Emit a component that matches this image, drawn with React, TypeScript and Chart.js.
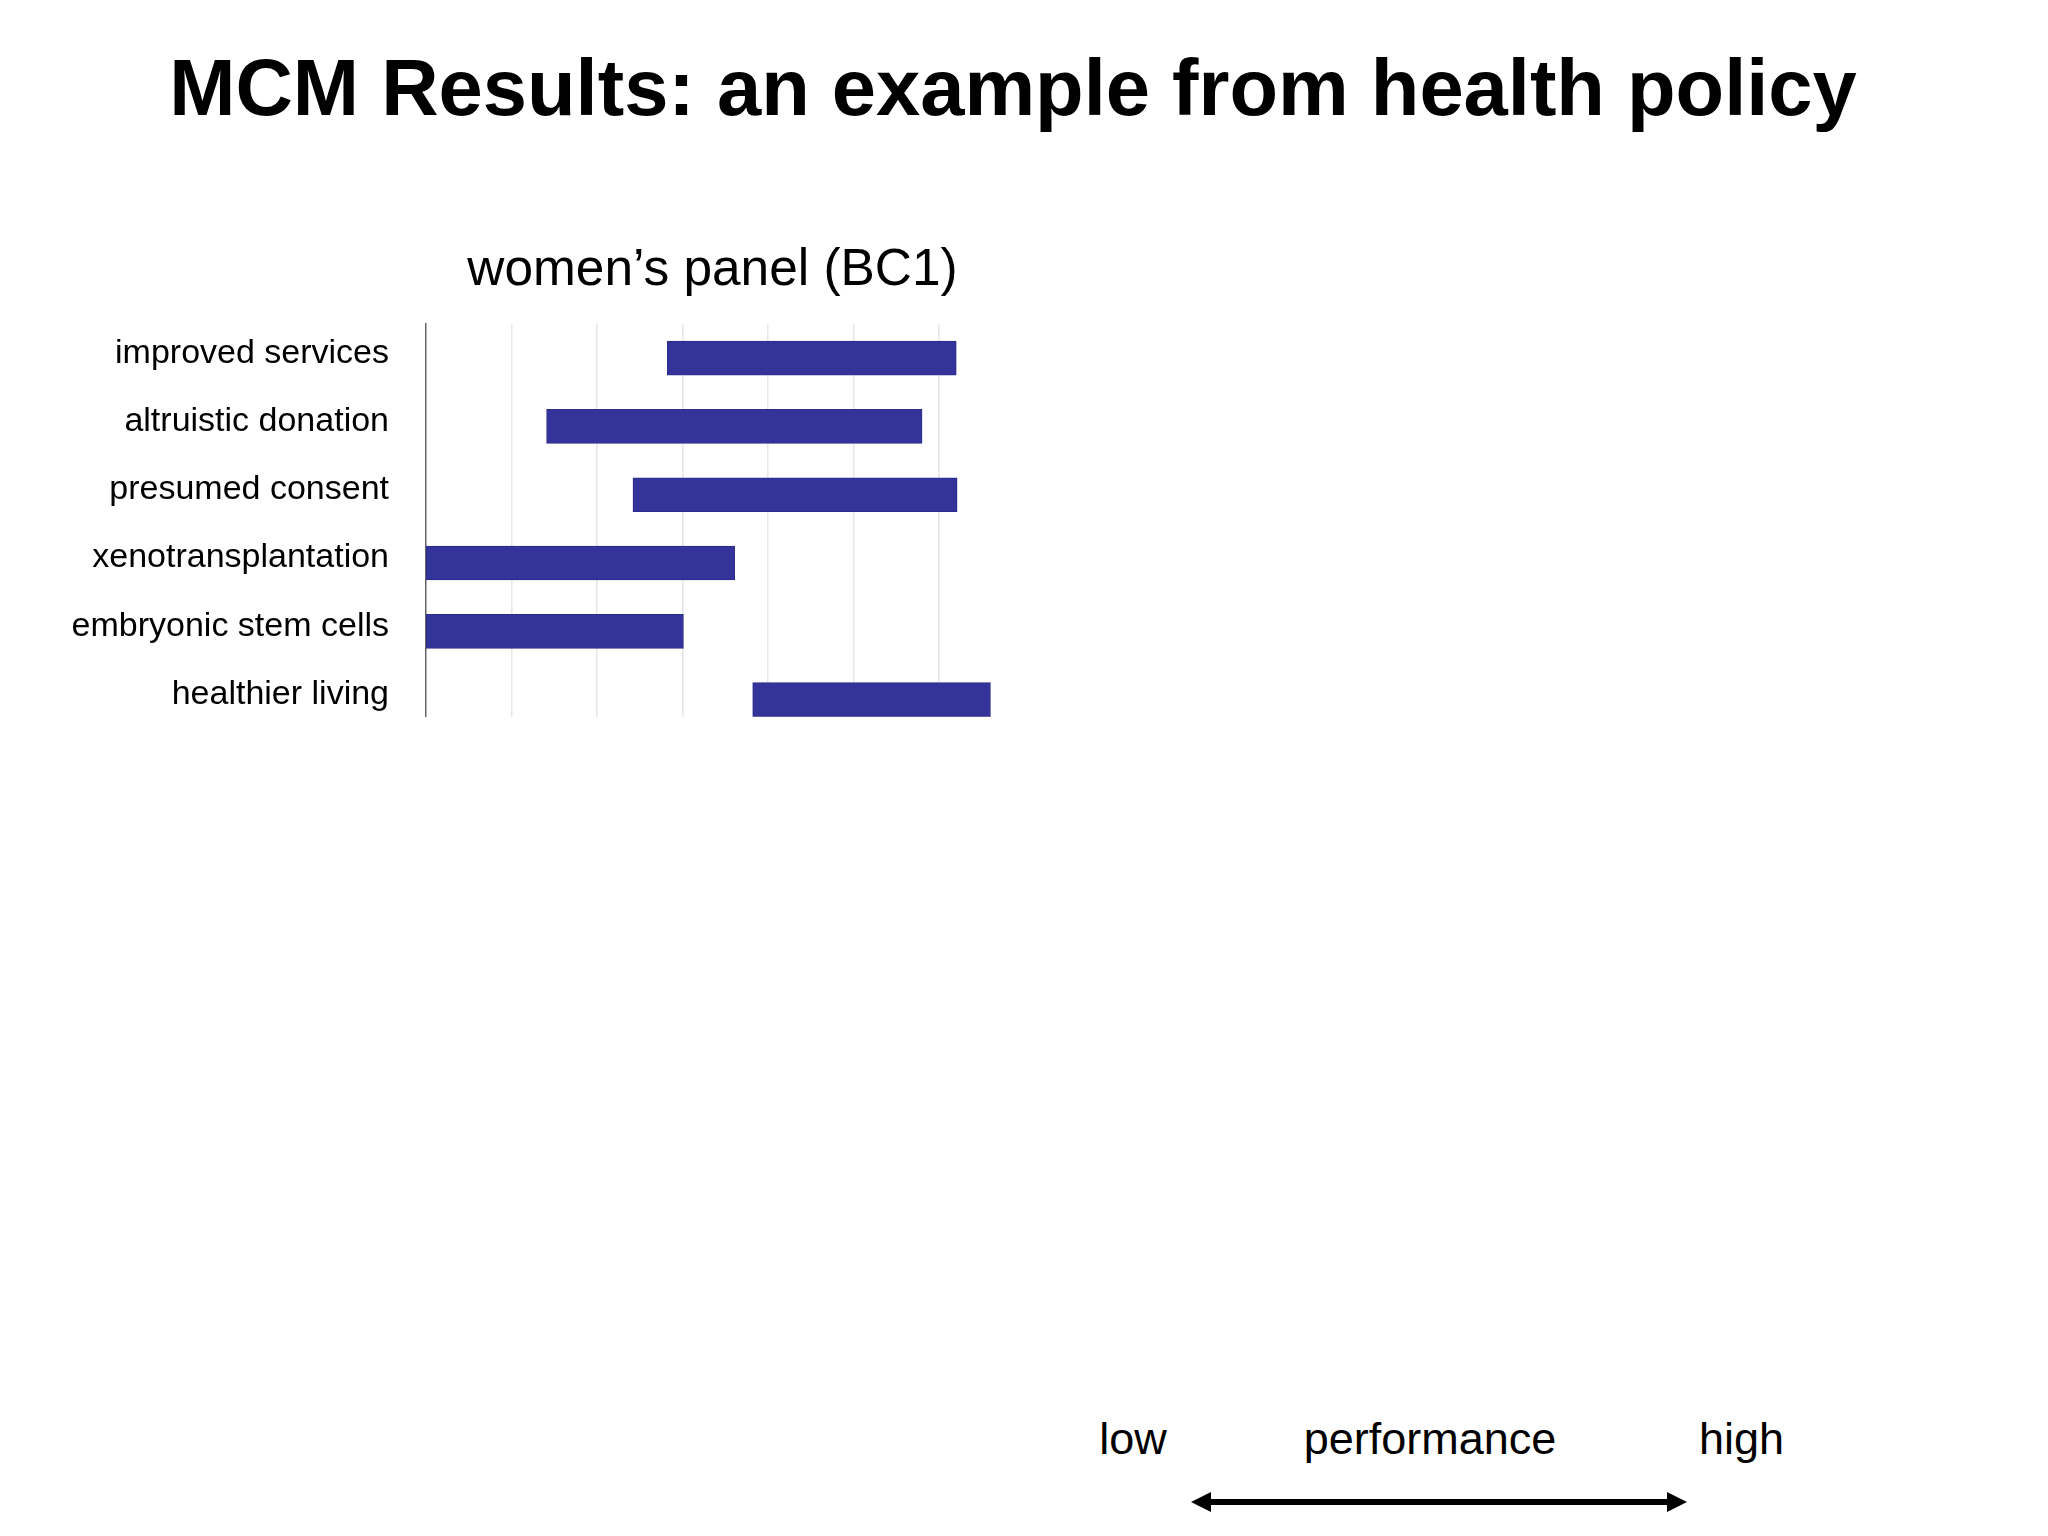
import React, { useEffect, useRef } from 'react';
import { Chart, registerables } from 'chart.js';

Chart.register(...registerables);

const FONT = '"Liberation Sans", Arial, Helvetica, sans-serif';

const pageTitle = 'MCM Results: an example from health policy';
const chartTitle = 'women’s panel (BC1)';
const categories = [
  'improved services',
  'altruistic donation',
  'presumed consent',
  'xenotransplantation',
  'embryonic stem cells',
  'healthier living',
];
const lowValues = [2.82, 1.41, 2.42, 0, 0, 3.82];
const highValues = [6.2, 5.8, 6.21, 3.61, 3.01, 6.6];
const gridTicks = [1, 2, 3, 4, 5, 6];
const xMin = 0;
const xMax = 6.7;
const scaleWords = ['low', 'performance', 'high'];

export default function App() {
  const ref = useRef<HTMLCanvasElement>(null);

  useEffect(() => {
    if (!ref.current) return;
    const chart = new Chart(ref.current, {
      type: 'bar',
      data: {
        datasets: [
          {
            data: categories.map((_, i) => ({ x: [lowValues[i], highValues[i]], y: i })) as any,
            backgroundColor: '#333399',
            borderColor: '#2c2c8c',
            borderWidth: 1,
            borderSkipped: false,
            barThickness: 34,
          },
        ],
      },
      options: {
        indexAxis: 'y',
        responsive: false,
        animation: false,
        devicePixelRatio: 1,
        layout: { padding: { left: 0, right: 11, top: 0, bottom: 0 } },
        plugins: {
          legend: { display: false },
          tooltip: { enabled: false },
          title: {
            display: true,
            text: chartTitle,
            fullSize: false,
            color: '#000',
            font: { family: FONT, size: 51.4, weight: 'normal', lineHeight: 1.2 },
            padding: { top: 20, bottom: 22.3 },
          },
        },
        scales: {
          x: {
            type: 'linear',
            min: xMin,
            max: xMax,
            offset: false,
            afterBuildTicks: (s: any) => {
              s.ticks = gridTicks.map((v) => ({ value: v }));
            },
            afterFit: (s: any) => {
              s.height = 23.3;
              s.paddingLeft = 0;
              s.paddingRight = 0;
            },
            grid: { display: true, color: '#e5e5ea', lineWidth: 1.5, drawTicks: false },
            border: { display: false },
            ticks: { display: false },
          },
          y: {
            type: 'linear',
            reverse: true,
            offset: false,
            min: -0.5,
            max: 5.25,
            afterBuildTicks: (s: any) => {
              s.ticks = categories.map((_, i) => ({ value: i }));
            },
            afterFit: (s: any) => {
              s.width = 426;
              s.paddingTop = 0;
              s.paddingBottom = 0;
            },
            grid: { display: false },
            border: { display: true, color: '#666666', width: 1.5 },
            ticks: {
              autoSkip: false,
              callback: (v: any) => categories[v as number] ?? '',
              color: '#000',
              font: { family: FONT, size: 34 },
              padding: 29,
              labelOffset: -5,
            },
          },
        },
      } as any,
    });
    return () => chart.destroy();
  }, []);

  const wordCenters = [1133, 1430, 1741.5];

  return (
    <div
      style={{
        position: 'fixed',
        left: 0,
        top: 0,
        width: 2048,
        height: 1536,
        background: '#ffffff',
        fontFamily: FONT,
        color: '#000',
        overflow: 'hidden',
      }}
    >
      <div
        style={{
          position: 'absolute',
          left: 0,
          top: 48,
          width: 2026,
          textAlign: 'center',
          fontSize: 79.5,
          lineHeight: '79.5px',
          fontWeight: 'bold',
          whiteSpace: 'nowrap',
        }}
      >
        {pageTitle}
      </div>
      <div style={{ position: 'absolute', left: 0, top: 220, width: 1010, height: 520 }}>
        <canvas ref={ref} width={1010} height={520} style={{ width: 1010, height: 520, display: 'block' }} />
      </div>
      {scaleWords.map((w, i) => (
        <div
          key={w}
          style={{
            position: 'absolute',
            left: wordCenters[i] - 200,
            top: 1416,
            width: 400,
            textAlign: 'center',
            fontSize: 45,
            lineHeight: '45px',
            whiteSpace: 'nowrap',
          }}
        >
          {w}
        </div>
      ))}
      <svg style={{ position: 'absolute', left: 0, top: 0 }} width={2048} height={1536}>
        <line x1={1205} y1={1502} x2={1673} y2={1502} stroke="#000" strokeWidth={6} />
        <polygon points="1191,1502 1211,1492 1211,1512" fill="#000" />
        <polygon points="1687,1502 1667,1492 1667,1512" fill="#000" />
      </svg>
    </div>
  );
}
